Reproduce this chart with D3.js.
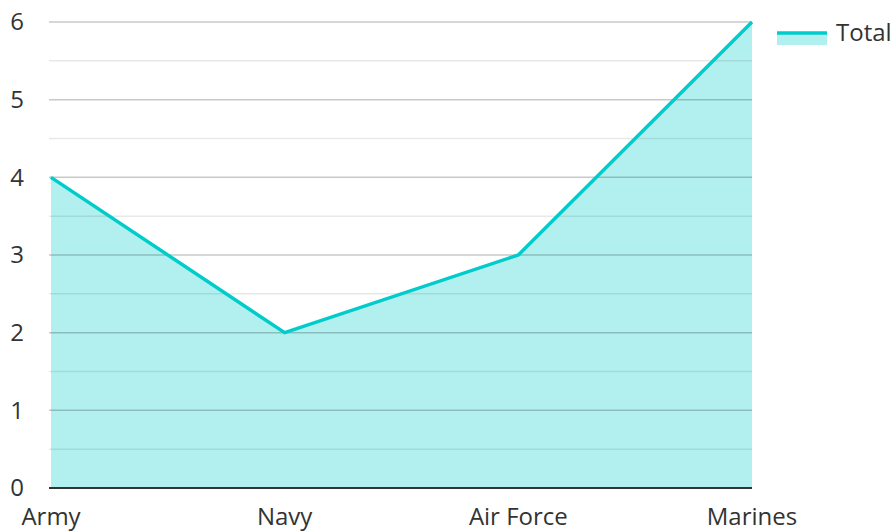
<!DOCTYPE html>
<html>
<head>
<meta charset="utf-8">
<script src="https://cdn.jsdelivr.net/npm/d3@7"></script>
<style>
	body { margin: 0; background: #fff; }
	text { font-family: "Open Sans", "Noto Sans", sans-serif; fill: #333; }
</style>
</head>
<body>
<div id="chartDiv"></div>
<script>
// chart data
var categories = ["Army", "Navy", "Air Force", "Marines"];
var totals = [4, 2, 3, 6];
var yTicks = [0, 1, 2, 3, 4, 5, 6];
var seriesName = "Total";

var W = 893, H = 531;
var margin = {top: 22, right: 141, bottom: 43, left: 51},
    width = W - margin.left - margin.right,
    height = H - margin.top - margin.bottom;

var lineColor = "#00cccc";

var x = d3.scalePoint().domain(categories).range([0, width]);
var y = d3.scaleLinear().domain([0, 6]).range([height, 0]);

var svg = d3.select("#chartDiv").append("svg")
	.attr("width", W)
	.attr("height", H)
	.append("g")
	.attr("transform", "translate(" + margin.left + "," + margin.top + ")");

var data = categories.map(function(c, i) { return {cat: c, v: totals[i]}; });

// filled area
var area = d3.area()
	.x(function(d) { return x(d.cat); })
	.y0(height)
	.y1(function(d) { return y(d.v); });

svg.append("path")
	.datum(data)
	.attr("d", area)
	.attr("fill", lineColor)
	.attr("fill-opacity", 0.3);

// gridlines, drawn over the fill
var minor = d3.range(0.5, 6, 1);
svg.append("g").selectAll("line.minor")
	.data(minor)
	.enter().append("line")
	.attr("x1", -2).attr("x2", width)
	.attr("y1", function(d) { return y(d); })
	.attr("y2", function(d) { return y(d); })
	.attr("stroke", "rgba(0,0,0,0.09)")
	.attr("stroke-width", 1.5);

svg.append("g").selectAll("line.major")
	.data(yTicks.filter(function(d) { return d > 0; }))
	.enter().append("line")
	.attr("x1", -2).attr("x2", width)
	.attr("y1", function(d) { return y(d); })
	.attr("y2", function(d) { return y(d); })
	.attr("stroke", "rgba(0,0,0,0.21)")
	.attr("stroke-width", 1.5);

// line
var line = d3.line()
	.x(function(d) { return x(d.cat); })
	.y(function(d) { return y(d.v); });

svg.append("path")
	.datum(data)
	.attr("d", line)
	.attr("fill", "none")
	.attr("stroke", lineColor)
	.attr("stroke-width", 3.5);

// bottom axis line
svg.append("line")
	.attr("x1", -2).attr("x2", width)
	.attr("y1", height).attr("y2", height)
	.attr("stroke", "#333")
	.attr("stroke-width", 2);

// y labels
svg.append("g").selectAll("text")
	.data(yTicks)
	.enter().append("text")
	.attr("x", -34)
	.attr("y", function(d) { return y(d); })
	.attr("dy", "0.35em")
	.attr("text-anchor", "middle")
	.style("font-size", "24px")
	.text(function(d) { return d; });

// x labels
svg.append("g").selectAll("text")
	.data(categories)
	.enter().append("text")
	.attr("x", function(d) { return x(d); })
	.attr("y", height + 37)
	.attr("text-anchor", "middle")
	.style("font-size", "24px")
	.text(function(d) { return d; });

// legend
var lg = svg.append("g")
	.attr("transform", "translate(" + (width + 25) + "," + 11 + ")");
lg.append("rect")
	.attr("x", 0).attr("y", 0)
	.attr("width", 50).attr("height", 12)
	.attr("fill", lineColor)
	.attr("fill-opacity", 0.3);
lg.append("line")
	.attr("x1", 0).attr("x2", 50)
	.attr("y1", 0).attr("y2", 0)
	.attr("stroke", lineColor)
	.attr("stroke-width", 3.5);
lg.append("text")
	.attr("x", 59)
	.attr("y", 0)
	.attr("dy", "0.35em")
	.style("font-size", "24px")
	.text(seriesName);
</script>
</body>
</html>
